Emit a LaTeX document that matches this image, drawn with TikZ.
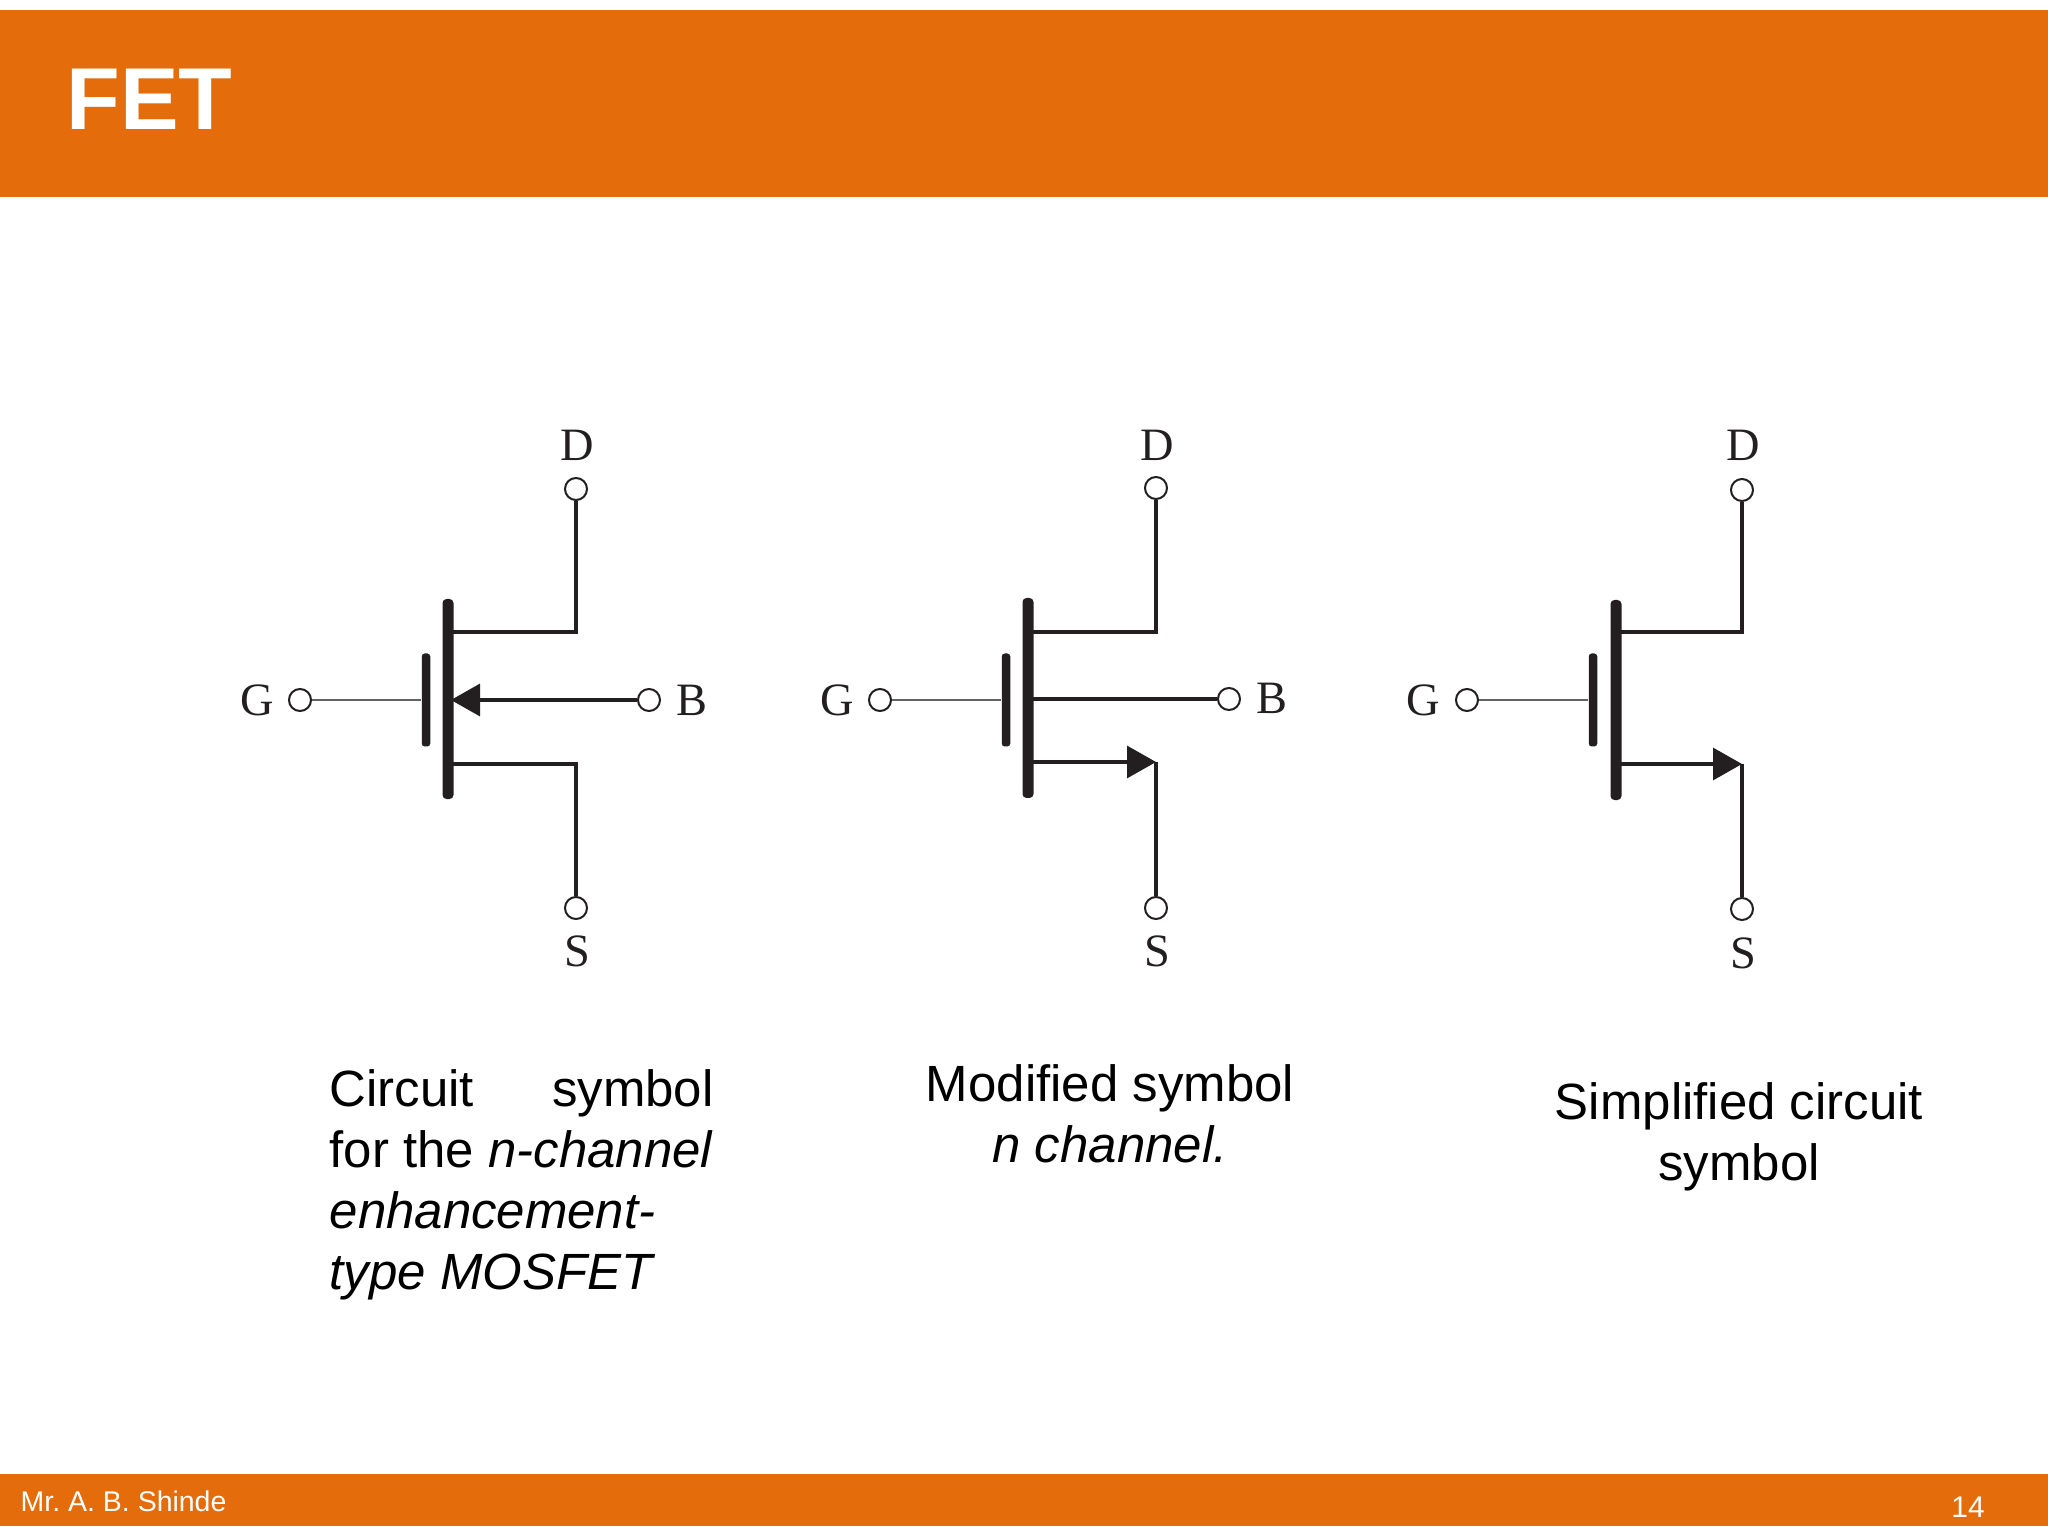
\documentclass[tikz,border=0pt]{standalone}
\usepackage{fontspec}
\setmainfont{Liberation Sans}
\newfontfamily\symfont{Liberation Serif}
\usetikzlibrary{arrows.meta}
\definecolor{slideorange}{HTML}{E46C0A}
\definecolor{symink}{HTML}{231F20}
\tikzset{
  band/.style={fill=slideorange,draw=none},
  term/.style={circle,draw=symink,fill=white,line width=0.2mm,minimum size=2.2mm,inner sep=0pt},
  wire/.style={draw=symink,line width=0.34mm},
  gatewire/.style={draw=symink!70,line width=0.22mm},
  chan/.style={rectangle,rounded corners=0.4mm,fill=symink,minimum width=1.1mm,minimum height=20mm,inner sep=0pt},
  gateplate/.style={rectangle,rounded corners=0.3mm,fill=symink,minimum width=0.85mm,minimum height=9.3mm,inner sep=0pt},
  tip/.style={wire,-{Triangle[length=2.9mm,width=3.2mm]}},
  pin/.style={font=\symfont\fontsize{13.2}{16}\selectfont,text=symink,inner sep=0pt},
  caption/.style={font=\fontsize{14.5}{17.4}\selectfont,inner sep=0pt},
}
\begin{document}
\begin{tikzpicture}
  \useasboundingbox (0,0) rectangle (20.48,-15.36);
  \fill[white] (0,0) rectangle (20.48,-15.36);
  \path[band] (0,-0.10) rectangle (20.48,-1.97);
  \path[band] (0,-14.74) rectangle (20.48,-15.26);
  \node[anchor=base west,inner sep=0pt,text=white,font=\bfseries\fontsize{25}{30}\selectfont] (title) at (0.66,-1.30) {FET};
  \node[anchor=west,inner sep=0pt,text=white,font=\fontsize{8.1}{10}\selectfont\frenchspacing] (author) at (0.20,-15.01) {Mr. A. B. Shinde};
  \node[inner sep=0pt,text=white,font=\fontsize{8.5}{10}\selectfont] (page) at (19.68,-15.07) {14};
  % circuit symbol
  \node[chan] (chana) at (4.48,-6.99) {};
  \node[gateplate] (platea) at (4.26,-7.00) {};
  \node[term] (da) at (5.76,-4.89) {};
  \node[term] (sa) at (5.76,-9.08) {};
  \node[term] (ga) at (3.00,-7.00) {};
  \node[term] (ba) at (6.49,-7.00) {};
  \node[pin] (dla) at (5.77,-4.45) {D};
  \node[pin] (sla) at (5.77,-9.51) {S};
  \node[pin] (gla) at (2.57,-7.00) {G};
  \node[pin] (bla) at (6.92,-7.00) {B};
  \coordinate (dja) at (4.48,-6.32);
  \coordinate (sja) at (4.48,-7.64);
  \coordinate (bja) at (4.51,-7.00);
  \draw[wire] (da) |- (dja);
  \draw[wire] (sa) |- (sja);
  \draw[gatewire] (ga) -- (platea);
  \draw[tip] (ba) -- (bja);
  % modified symbol
  \node[chan] (chanb) at (10.28,-6.98) {};
  \node[gateplate] (plateb) at (10.06,-7.00) {};
  \node[term] (db) at (11.56,-4.88) {};
  \node[term] (sb) at (11.56,-9.08) {};
  \node[term] (gb) at (8.80,-7.00) {};
  \node[term] (bb) at (12.29,-6.99) {};
  \node[pin] (dlb) at (11.57,-4.45) {D};
  \node[pin] (slb) at (11.57,-9.51) {S};
  \node[pin] (glb) at (8.37,-7.00) {G};
  \node[pin] (blb) at (12.72,-6.98) {B};
  \coordinate (djb) at (10.28,-6.32);
  \coordinate (sjb) at (10.28,-7.62);
  \coordinate (skb) at (11.56,-7.62);
  \coordinate (bjb) at (10.28,-6.99);
  \draw[wire] (db) |- (djb);
  \draw[wire] (sb) -- (skb);
  \draw[tip] (sjb) -- (skb);
  \draw[gatewire] (gb) -- (plateb);
  \draw[wire] (bb) -- (bjb);
  % simplified symbol
  \node[chan] (chanc) at (16.16,-7.00) {};
  \node[gateplate] (platec) at (15.93,-7.00) {};
  \node[term] (dc) at (17.42,-4.90) {};
  \node[term] (sc) at (17.42,-9.09) {};
  \node[term] (gc) at (14.67,-7.00) {};
  \node[pin] (dlc) at (17.43,-4.45) {D};
  \node[pin] (slc) at (17.43,-9.53) {S};
  \node[pin] (glc) at (14.23,-7.00) {G};
  \coordinate (djc) at (16.16,-6.32);
  \coordinate (sjc) at (16.16,-7.64);
  \coordinate (skc) at (17.42,-7.64);
  \draw[wire] (dc) |- (djc);
  \draw[wire] (sc) -- (skc);
  \draw[tip] (sjc) -- (skc);
  \draw[gatewire] (gc) -- (platec);
  % captions
  \node[caption,anchor=west,align=left] (capa) at (3.29,-11.85) {\makebox[3.84cm]{Circuit\hfill symbol}\\for the \textit{n-channel}\\\textit{enhancement-}\\\textit{type MOSFET}};
  \node[caption,align=center] (capb) at (11.10,-11.14) {Modified symbol\\\textit{n channel.}};
  \node[caption,align=center] (capc) at (17.39,-11.37) {Simplified circuit\\symbol};
\end{tikzpicture}
\end{document}
